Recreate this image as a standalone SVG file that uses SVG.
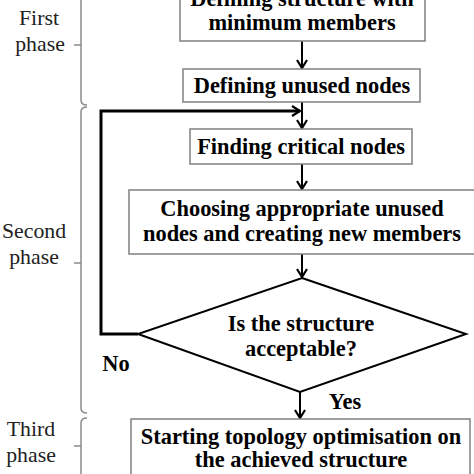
<svg xmlns="http://www.w3.org/2000/svg" width="474" height="474" viewBox="0 0 474 474">
<defs>
<style>
.box{fill:#fff;stroke:#808080;stroke-width:1.5}
.t{font-family:"Liberation Serif","Times New Roman",serif;font-weight:bold;font-size:22.4px;fill:#000;text-anchor:middle}
.lbl{font-family:"Liberation Serif","Times New Roman",serif;font-size:21.8px;fill:#222;text-anchor:middle}
.brace{fill:none;stroke:#8a8a8a;stroke-width:1.5}
.arr{fill:none;stroke:#000;stroke-width:2}
.loop{fill:none;stroke:#000;stroke-width:3}
</style>
<marker id="ah" markerWidth="12" markerHeight="12" viewBox="0 0 12 12" refX="10" refY="6" orient="auto" markerUnits="userSpaceOnUse">
<path d="M2,1 L10,6 L2,11" fill="none" stroke="#000" stroke-width="2.2"/>
</marker>
</defs>
<rect width="474" height="474" fill="#fff"/>
<g id="labels">
<text class="lbl" x="39" y="25">First</text>
<text class="lbl" x="40" y="51">phase</text>
<text class="lbl" x="34" y="238">Second</text>
<text class="lbl" x="34" y="264">phase</text>
<text class="lbl" x="31" y="436">Third</text>
<text class="lbl" x="31" y="462">phase</text>
</g>
<g id="braces">
<path class="brace" d="M81,-5 V100 Q81,105 87,105 M81,45 H74"/>
<path class="brace" d="M87,107 Q81,107 81,112 V408 Q81,413 87,413 M81,263 H74"/>
<path class="brace" d="M87,418 Q81,418 81,423 V480 M81,446 H74"/>
</g>
<g id="connectors">
<line class="arr" x1="302" y1="41" x2="302" y2="68" marker-end="url(#ah)"/>
<line class="arr" x1="302" y1="102" x2="302" y2="128" marker-end="url(#ah)"/>
<line class="arr" x1="302" y1="164" x2="302" y2="189" marker-end="url(#ah)"/>
<line class="arr" x1="302" y1="254" x2="302" y2="277" marker-end="url(#ah)"/>
<line class="arr" x1="300" y1="392" x2="300" y2="418" marker-end="url(#ah)"/>
<polyline class="loop" points="138,334 101,334 101,111 300,111" marker-end="url(#ah)"/>
<text class="t" x="116" y="371">No</text>
<text class="t" x="345" y="409">Yes</text>
</g>
<g id="n1">
<rect class="box" x="180" y="-20" width="245" height="61"/>
<text class="t" x="302" y="6">Defining structure with</text>
<text class="t" x="302" y="30">minimum members</text>
</g>
<g id="n2">
<rect class="box" x="183" y="69" width="237" height="33"/>
<text class="t" x="302" y="93">Defining unused nodes</text>
</g>
<g id="n3">
<rect class="box" x="190" y="129" width="222" height="35"/>
<text class="t" x="301" y="154">Finding critical nodes</text>
</g>
<g id="n4">
<rect class="box" x="129" y="190" width="350" height="64"/>
<text class="t" x="302" y="216">Choosing appropriate unused</text>
<text class="t" x="302" y="241">nodes and creating new members</text>
</g>
<g id="n5">
<polygon class="box" points="302,278 466,334 300,392 138,334" style="stroke:#000;stroke-width:2"/>
<text class="t" x="301" y="331">Is the structure</text>
<text class="t" x="301" y="356">acceptable?</text>
</g>
<g id="n6">
<rect class="box" x="131" y="419" width="339" height="60"/>
<text class="t" x="301" y="444">Starting topology optimisation on</text>
<text class="t" x="301" y="467">the achieved structure</text>
</g>
</svg>
